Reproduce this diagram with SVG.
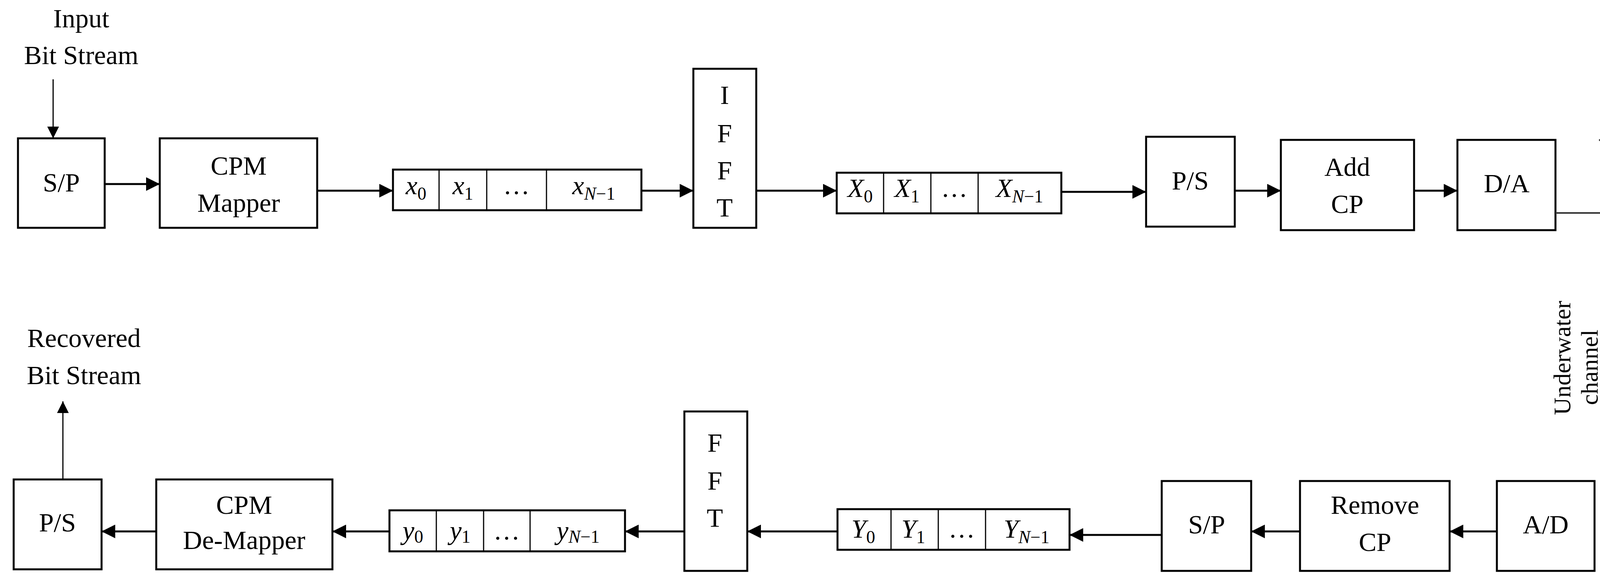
<svg xmlns="http://www.w3.org/2000/svg" width="4352" height="1492" viewBox="0 0 4352 1492">
<style>
rect{fill:#fff;stroke:#000;stroke-width:5}
.c line{stroke:#000;stroke-width:5}
.thin{stroke-width:3!important}
.cell{stroke:#000;stroke-width:3}
text{font-family:"Liberation Serif",serif;font-size:68px;fill:#000;text-anchor:middle}
.m{font-style:italic}
.s{font-size:46px}
.n{font-size:46px;font-style:normal}
.ant{stroke:#333;stroke-width:4;fill:none}
</style>
<defs>
<marker id="a" viewBox="0 0 10 10" refX="10" refY="5" markerWidth="8" markerHeight="7" markerUnits="strokeWidth" orient="auto"><path d="M0,0L10,5L0,10z" fill="#000"/></marker>
<marker id="b" viewBox="0 0 10 10" refX="10" refY="5" markerWidth="12" markerHeight="10" markerUnits="strokeWidth" orient="auto"><path d="M0,0L10,5L0,10z" fill="#000"/></marker>
</defs>
<text x="208" y="70">Input</text>
<text x="208" y="164">Bit Stream</text>
<text x="215" y="888">Recovered</text>
<text x="215" y="983">Bit Stream</text>
<text transform="translate(4020,916) rotate(-90)" style="font-size:62px">Underwater</text>
<text transform="translate(4090,940) rotate(-90)" style="font-size:62px">channel</text>

<g id="sp1"><rect x="46" y="354" width="222" height="229"/><text x="157" y="490">S/P</text></g>
<g id="mapper"><rect x="409" y="354" width="403" height="229"/><text x="611" y="447">CPM</text><text x="611" y="542">Mapper</text></g>
<g id="xarr"><rect x="1006" y="434" width="636" height="104"/><line class="cell" x1="1124" y1="434" x2="1124" y2="538"/><line class="cell" x1="1246" y1="434" x2="1246" y2="538"/><line class="cell" x1="1399" y1="434" x2="1399" y2="538"/>
<text x="1065" y="497" class="m">x<tspan class="n" dy="14">0</tspan></text><text x="1185" y="497" class="m">x<tspan class="n" dy="14">1</tspan></text><text x="1322" y="497">…</text><text x="1520" y="497" class="m">x<tspan class="s" dy="14">N</tspan><tspan class="n">−1</tspan></text></g>
<g id="ifft"><rect x="1775" y="176" width="161" height="407"/><text x="1855" y="266">I</text><text x="1855" y="364">F</text><text x="1855" y="459">F</text><text x="1855" y="554">T</text></g>
<g id="Xarr"><rect x="2142" y="442" width="575" height="104"/><line class="cell" x1="2262" y1="442" x2="2262" y2="546"/><line class="cell" x1="2383" y1="442" x2="2383" y2="546"/><line class="cell" x1="2504" y1="442" x2="2504" y2="546"/>
<text x="2202" y="504" class="m">X<tspan class="n" dy="14">0</tspan></text><text x="2322" y="504" class="m">X<tspan class="n" dy="14">1</tspan></text><text x="2443" y="504">…</text><text x="2610" y="504" class="m">X<tspan class="s" dy="14">N</tspan><tspan class="n">−1</tspan></text></g>
<g id="ps1"><rect x="2934" y="350" width="227" height="230"/><text x="3047" y="485">P/S</text></g>
<g id="addcp"><rect x="3279" y="358" width="341" height="231"/><text x="3449" y="450">Add</text><text x="3449" y="545">CP</text></g>
<g id="da"><rect x="3731" y="358" width="251" height="231"/><text x="3857" y="492">D/A</text></g>
<g id="ant1"><path class="ant" d="M3982,545H4158V350M4094,357L4158,421L4211,357"/></g>

<g id="ps2"><rect x="35" y="1227" width="225" height="230"/><text x="147" y="1360">P/S</text></g>
<g id="demapper"><rect x="400" y="1227" width="451" height="230"/><text x="625" y="1315">CPM</text><text x="625" y="1405">De-Mapper</text></g>
<g id="yarr"><rect x="997" y="1306" width="603" height="105"/><line class="cell" x1="1117" y1="1306" x2="1117" y2="1411"/><line class="cell" x1="1238" y1="1306" x2="1238" y2="1411"/><line class="cell" x1="1357" y1="1306" x2="1357" y2="1411"/>
<text x="1057" y="1381" class="m">y<tspan class="n" dy="8">0</tspan></text><text x="1178" y="1381" class="m">y<tspan class="n" dy="8">1</tspan></text><text x="1297" y="1381">…</text><text x="1480" y="1381" class="m">y<tspan class="s" dy="8">N</tspan><tspan class="n">−1</tspan></text></g>
<g id="fft"><rect x="1752" y="1053" width="161" height="408"/><text x="1830" y="1156">F</text><text x="1830" y="1253">F</text><text x="1830" y="1348">T</text></g>
<g id="Yarr"><rect x="2144" y="1303" width="594" height="104"/><line class="cell" x1="2281" y1="1303" x2="2281" y2="1407"/><line class="cell" x1="2402" y1="1303" x2="2402" y2="1407"/><line class="cell" x1="2523" y1="1303" x2="2523" y2="1407"/>
<text x="2210" y="1376" class="m">Y<tspan class="n" dy="14">0</tspan></text><text x="2338" y="1376" class="m">Y<tspan class="n" dy="14">1</tspan></text><text x="2462" y="1376">…</text><text x="2628" y="1376" class="m">Y<tspan class="s" dy="14">N</tspan><tspan class="n">−1</tspan></text></g>
<g id="sp2"><rect x="2974" y="1231" width="229" height="230"/><text x="3089" y="1365">S/P</text></g>
<g id="rmcp"><rect x="3328" y="1231" width="383" height="230"/><text x="3520" y="1315">Remove</text><text x="3520" y="1410">CP</text></g>
<g id="ad"><rect x="3832" y="1231" width="250" height="230"/><text x="3957" y="1365">A/D</text></g>
<g id="ant2"><path class="ant" d="M4096,1418H4272V1222M4200,1227L4272,1293L4325,1217"/></g>

<g class="c">
<line class="thin" x1="136" y1="203" x2="136" y2="354" marker-end="url(#b)"/>
<line x1="268" y1="471" x2="409" y2="471" marker-end="url(#a)"/>
<line x1="812" y1="488" x2="1006" y2="488" marker-end="url(#a)"/>
<line x1="1642" y1="488" x2="1775" y2="488" marker-end="url(#a)"/>
<line x1="1936" y1="488" x2="2142" y2="488" marker-end="url(#a)"/>
<line x1="2717" y1="491" x2="2934" y2="491" marker-end="url(#a)"/>
<line x1="3161" y1="488" x2="3279" y2="488" marker-end="url(#a)"/>
<line x1="3620" y1="488" x2="3731" y2="488" marker-end="url(#a)"/>
<line x1="3832" y1="1360" x2="3711" y2="1360" marker-end="url(#a)"/>
<line x1="3328" y1="1360" x2="3203" y2="1360" marker-end="url(#a)"/>
<line x1="2974" y1="1369" x2="2738" y2="1369" marker-end="url(#a)"/>
<line x1="2144" y1="1360" x2="1913" y2="1360" marker-end="url(#a)"/>
<line x1="1752" y1="1360" x2="1600" y2="1360" marker-end="url(#a)"/>
<line x1="997" y1="1360" x2="851" y2="1360" marker-end="url(#a)"/>
<line x1="400" y1="1360" x2="260" y2="1360" marker-end="url(#a)"/>
<line class="thin" x1="161" y1="1227" x2="161" y2="1027" marker-end="url(#b)"/>
</g>
</svg>
